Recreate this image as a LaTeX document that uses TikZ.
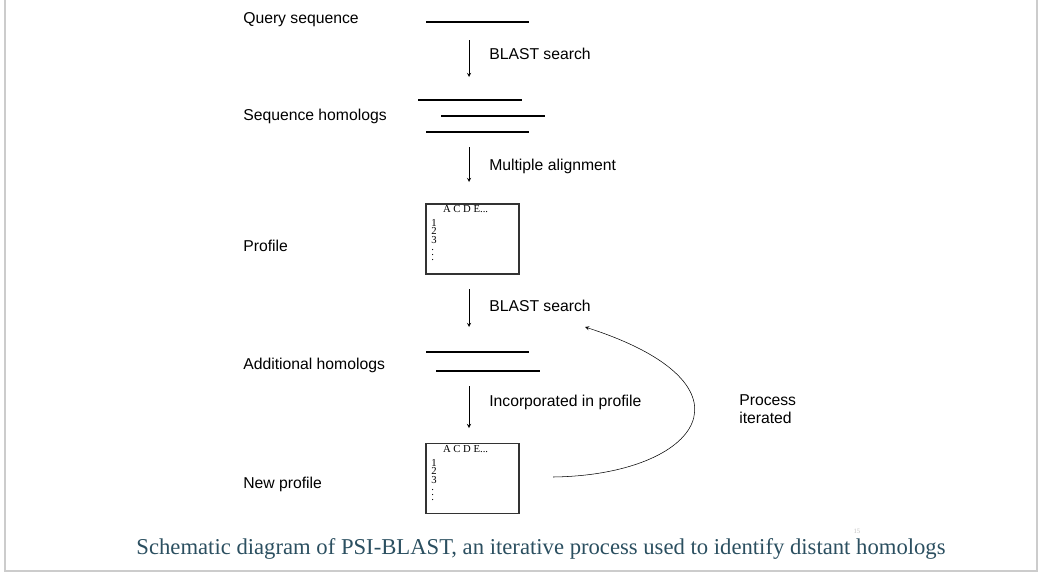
\documentclass[tikz,border=0pt]{standalone}
\usepackage{fontspec}
\setmainfont{Liberation Serif}
\newfontfamily\labelfont{Liberation Sans}
\usetikzlibrary{positioning}
\definecolor{captioncol}{HTML}{2B4F60}
\definecolor{framecol}{HTML}{CCCCCC}

\begin{document}
\begin{tikzpicture}[
  x=0.75pt, y=-0.75pt,
  steplabel/.style={anchor=west, font=\labelfont\fontsize{11.8}{14}\selectfont, inner sep=0pt},
  seqline/.style={line width=1.6pt},
  profilebox/.style={rectangle, draw=black!80, thick, minimum width=69.75pt, minimum height=52.5pt, inner sep=0pt},
  boxtext/.style={font=\fontsize{8}{8}\selectfont, inner sep=0pt},
  steparrow/.style={->, >=stealth, thin},
]
\useasboundingbox (0,0) rectangle (1043,576);
\draw[framecol, line width=1.5pt] (5,0) -- (5,571) -- (1037,571) -- (1037,0);

% left labels
\node[steplabel] (query) at (243,20) {Query sequence};
\node[steplabel] (homologs) at (243,116) {Sequence homologs};
\node[steplabel] (profile) at (243,246) {Profile};
\node[steplabel] (additional) at (243,365) {Additional homologs};
\node[steplabel] (newprofile) at (243,484) {New profile};

% sequences
\draw[seqline] (426,22) -- (529,22);
\draw[seqline] (418,100) -- (522,100);
\draw[seqline] (441,116) -- (545,116);
\draw[seqline] (426,132) -- (529,132);
\draw[seqline] (426,352) -- (529,352);
\draw[seqline] (436,371) -- (540,371);

% profiles
\node[profilebox] (box1) at (472.5,239) {};
\node[boxtext, below right=1.5pt and 13pt of box1.north west] (acde1) {A C D E...};
\node[boxtext, anchor=north west, align=left] (nums1) at (431,219) {1\\[-1.5pt]2\\[-1.5pt]3\\[-3pt]$\vdots$};
\node[profilebox] (box2) at (472.5,478.5) {};
\node[boxtext, below right=1.5pt and 13pt of box2.north west] (acde2) {A C D E...};
\node[boxtext, anchor=north west, align=left] (nums2) at (431,459) {1\\[-1.5pt]2\\[-1.5pt]3\\[-3pt]$\vdots$};

% steps
\coordinate (a1s) at (469,40);  \coordinate (a1e) at (469,77);
\coordinate (a2s) at (469,147); \coordinate (a2e) at (469,182);
\coordinate (a3s) at (469,289); \coordinate (a3e) at (469,327);
\coordinate (a4s) at (469,386); \coordinate (a4e) at (469,428);
\draw[steparrow] (a1s) -- (a1e);
\draw[steparrow] (a2s) -- (a2e);
\draw[steparrow] (a3s) -- (a3e);
\draw[steparrow] (a4s) -- (a4e);
\node[steplabel] (blast1) at (489,54) {BLAST search};
\node[steplabel] (align) at (489,166) {Multiple alignment};
\node[steplabel] (blast2) at (489,306) {BLAST search};
\node[steplabel] (incorp) at (489,402) {Incorporated in profile};

% iteration loop
\coordinate (loopstart) at (553,477);
\coordinate (loopend) at (585,327);
\draw[steparrow] (loopstart) .. controls (700,475) and (765,385) .. (loopend);
\node[steplabel, align=left] (iter) at (739,409) {Process\\iterated};

% caption
\node[font=\fontsize{17}{19}\selectfont, text=captioncol] (caption) at (541,549)
  {Schematic diagram of PSI-BLAST, an iterative process used to identify distant homologs};
\node[font=\fontsize{5}{5}\selectfont, text=black!25, above=-3pt of caption.north east, xshift=-70pt] (pagenum) {15};
\end{tikzpicture}
\end{document}
